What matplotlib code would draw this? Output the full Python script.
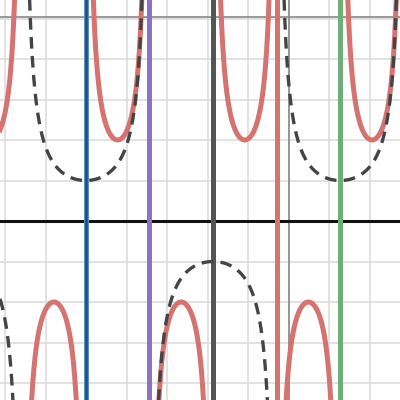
import numpy as np
import matplotlib
matplotlib.use("Agg")
import matplotlib.pyplot as plt

# vertical reference lines (x values) and their colors
vlines_x = [-np.pi, -np.pi / 2, 0.0, np.pi / 2, np.pi]
vlines_c = ["#5b8fc4", "#8d72c4", "#555555", "#d47370", "#6fae78"]
red_amp = 2.0
dash_amp = -1.0

x = np.linspace(-5.3, 4.7, 20000)

fig = plt.figure(figsize=(4, 4), dpi=100)
ax = fig.add_axes([0, 0, 1, 1])
ax.set_xlim(-213 / 40.5, 187 / 40.5)
ax.set_ylim(-179 / 40.5, 221 / 40.5)

for gx in np.arange(-6, 6) + 0.87:
    ax.axvline(gx, color="#dddddd", lw=1.2, zorder=0)
for gy in range(-5, 6):
    ax.axhline(gy, color="#dddddd", lw=1.2, zorder=0)
ax.axhline(5.04, color="#888888", lw=1.2, zorder=0)
ax.axvline(1.87, color="#888888", lw=1.2, zorder=0)
ax.axhline(0, color="#111111", lw=2.2, zorder=1)

for vx, vc in zip(vlines_x, vlines_c):
    ax.axvline(vx, color=vc, lw=3.6, zorder=2)
ax.axvline(-np.pi, color="#1c4f80", lw=1.8, zorder=2)

with np.errstate(divide="ignore"):
    red = red_amp / np.sin(2 * x)
    dash = dash_amp / np.cos(x)
red[np.abs(red) > 20] = np.nan
dash[np.abs(dash) > 20] = np.nan
ax.plot(x, red, color="#d47370", lw=3.6, zorder=3)
ax.plot(x, dash, color="#444444", lw=2.4, ls=(0, (3.5, 2.2)), zorder=4)

ax.set_xticks([])
ax.set_yticks([])
for s in ax.spines.values():
    s.set_visible(False)
fig.savefig("out.png")
